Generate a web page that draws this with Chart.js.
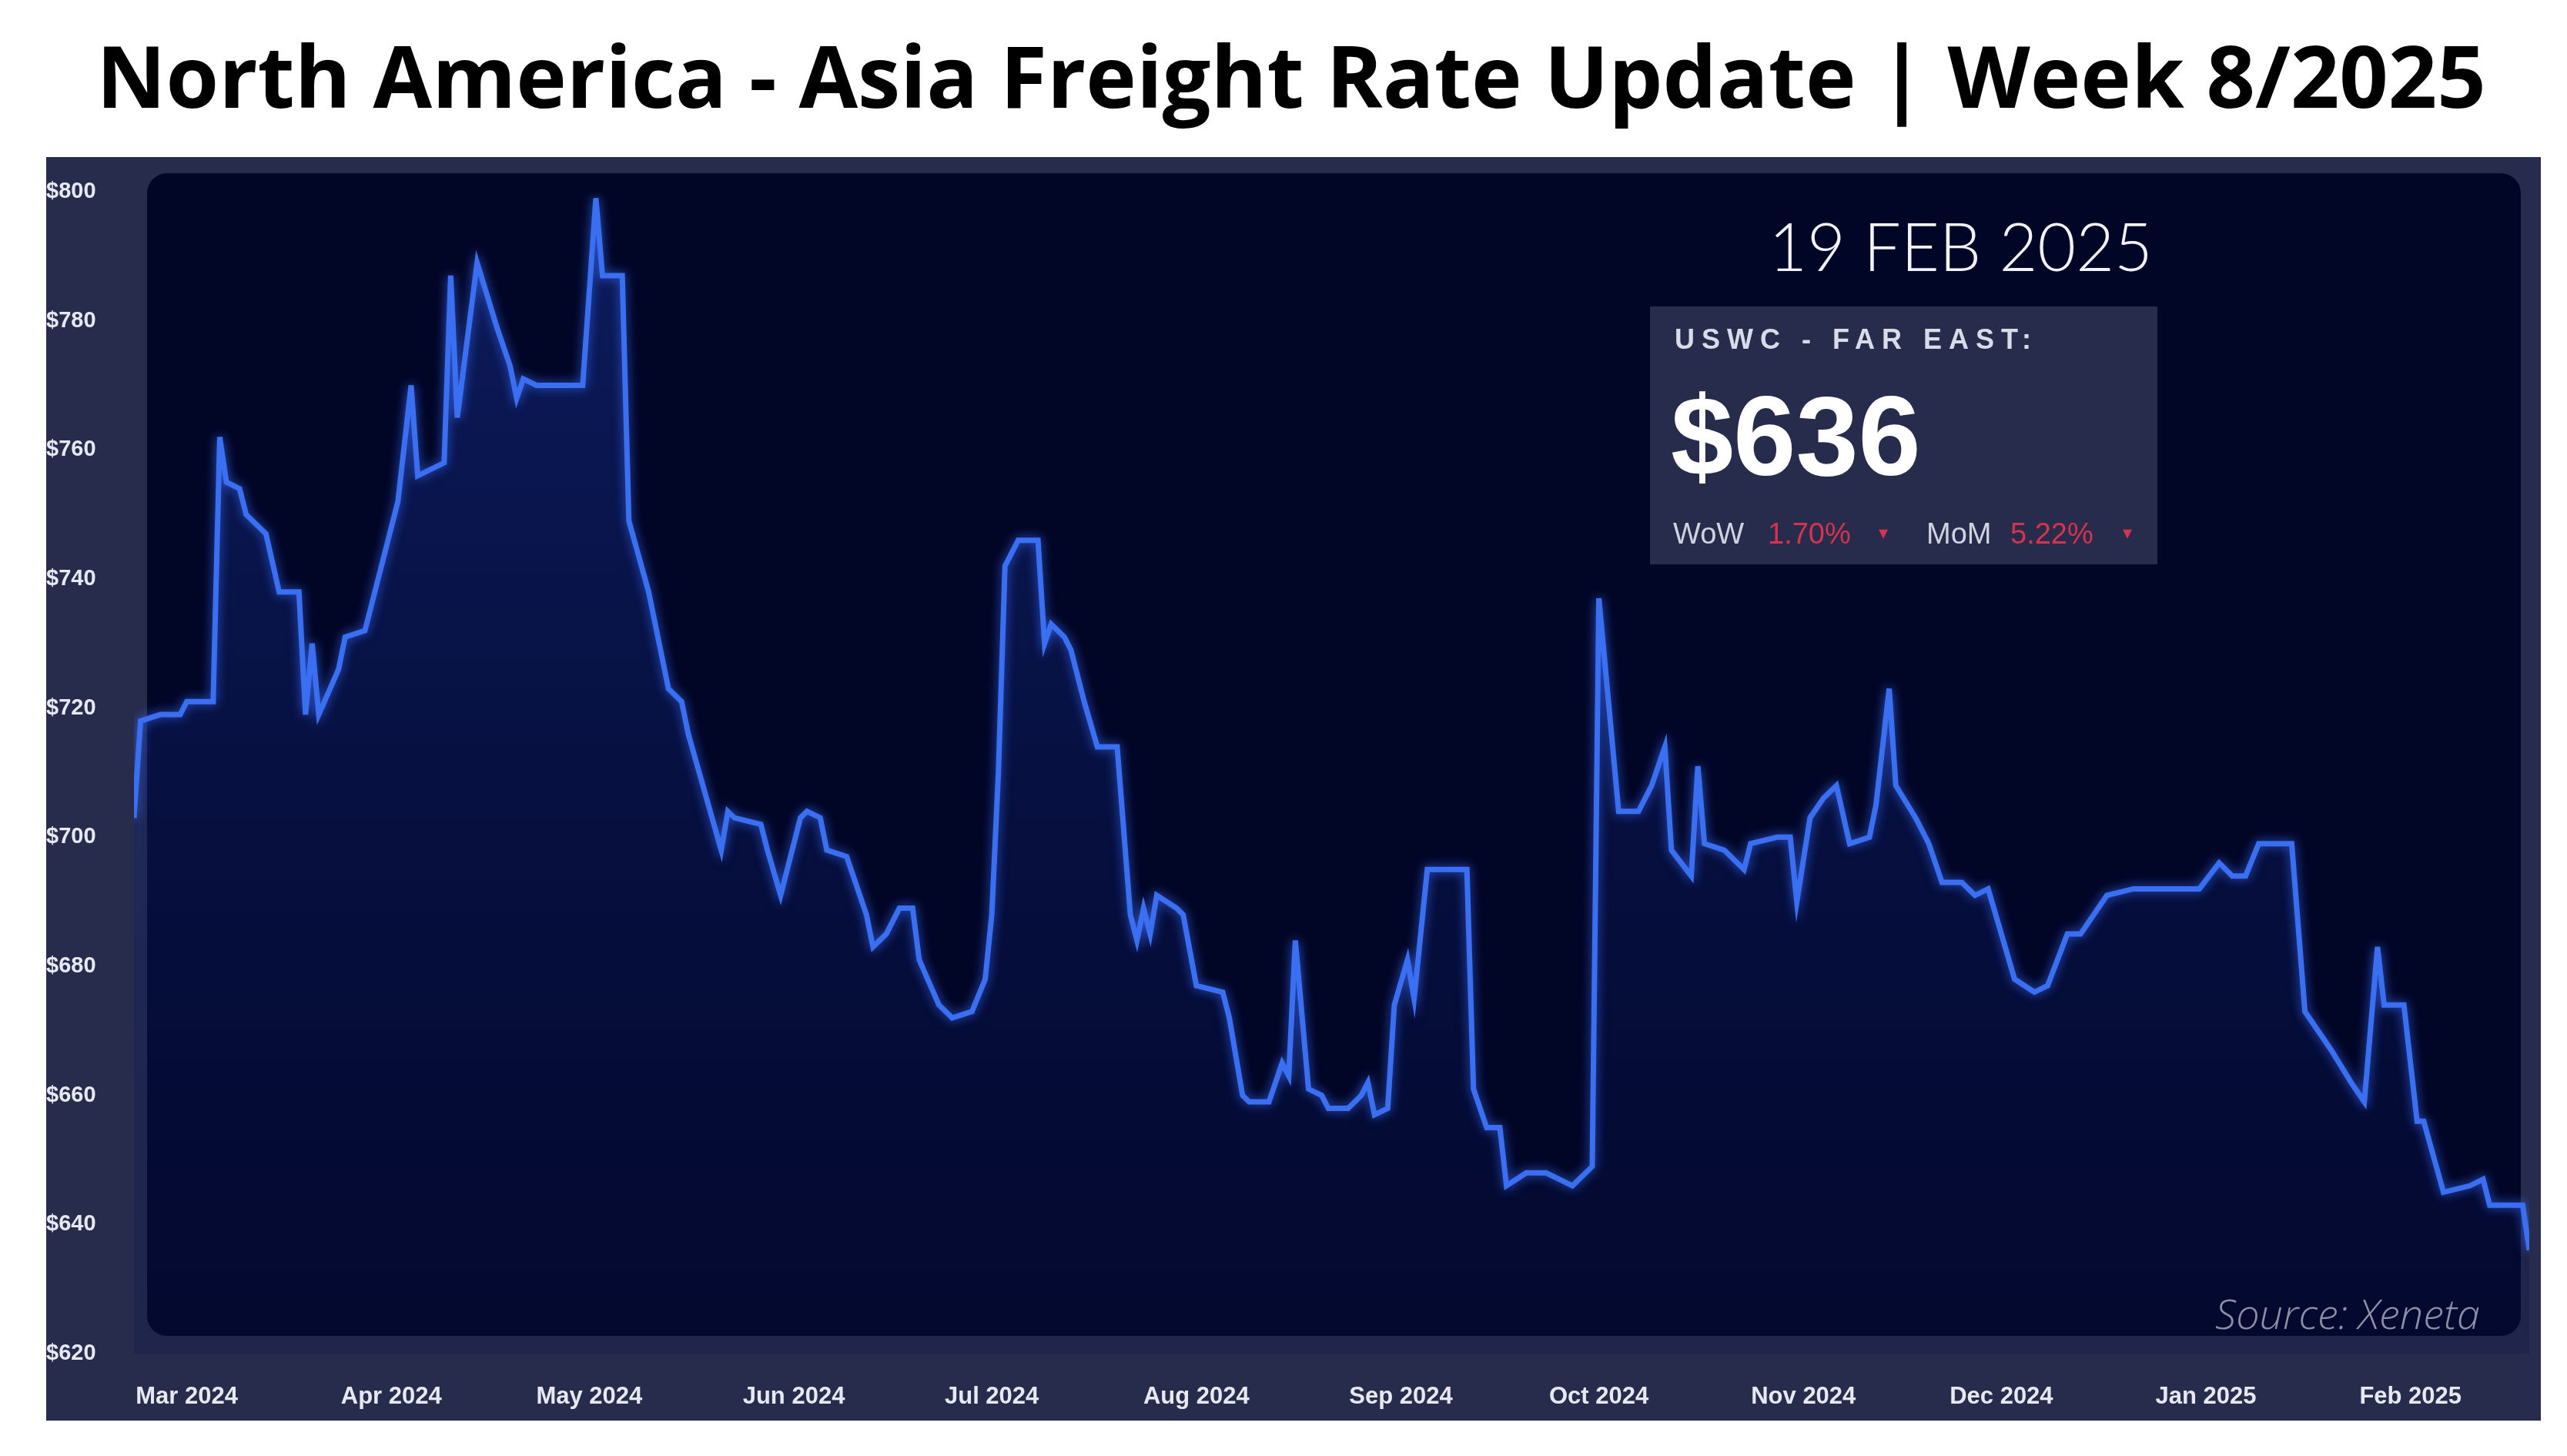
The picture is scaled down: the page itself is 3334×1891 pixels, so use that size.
<!DOCTYPE html>
<html>
<head>
<meta charset="utf-8">
<script src="https://cdn.jsdelivr.net/npm/chart.js@4/dist/chart.umd.min.js"></script>
<style>
html,body{margin:0;padding:0;background:#fff;}
#wrap{width:3334px;height:1891px;}
</style>
</head>
<body>
<div id="wrap"><canvas id="rateChart"></canvas></div>
<script>
// days counted from 1 Mar 2024
const days = [-8,-7,-4,-1,0,4,5,6,8,9,12,14,17,18,19,20,23,24,27,29,32,34,35,39,40,41,44,47,49,50,51,53,60,62,63,66,67,70,73,75,76,81,82,83,87,88,90,93,94,96,97,100,103,104,106,108,110,111,114,116,119,121,122,123,124,126,129,130,131,133,134,136,138,141,143,144,145,146,147,150,151,153,157,158,160,161,164,166,167,168,170,172,173,176,178,179,180,182,183,185,186,188,194,195,197,199,200,203,206,208,210,213,214,217,220,222,224,225,228,229,230,233,236,237,241,243,244,246,248,250,252,255,256,258,259,262,264,266,269,271,273,277,280,282,285,287,291,295,305,308,310,312,314,319,321,325,328,330,332,333,336,338,339,342,346,348,349,354,355];
const rates = [703,718,719,719,721,721,762,755,754,750,747,738,738,719,730,719,726,731,732,740,752,770,756,758,787,765,789,779,773,768,771,770,770,799,787,787,749,738,723,721,716,698,704,703,702,698,691,703,704,703,698,697,688,683,685,689,689,681,674,672,673,678,688,710,742,746,746,730,733,731,729,721,714,714,688,684,689,685,691,689,688,677,676,672,660,659,659,665,663,684,661,660,658,658,660,662,657,658,674,681,675,695,695,661,655,655,646,648,648,647,646,649,737,704,704,708,714,698,694,711,699,698,695,699,700,700,690,703,706,708,699,700,705,723,708,703,699,693,693,691,692,678,676,677,685,685,691,692,692,696,694,694,699,699,673,667,662,659,683,674,674,656,656,645,646,647,643,643,636];

const monthDays = [0,31,61,92,122,153,184,214,245,275,306,337];
const monthLabels = ['Mar 2024','Apr 2024','May 2024','Jun 2024','Jul 2024','Aug 2024','Sep 2024','Oct 2024','Nov 2024','Dec 2024','Jan 2025','Feb 2025'];
const yTicks = [620,640,660,680,700,720,740,760,780,800];

const points = days.map((d, i) => ({x: d, y: rates[i]}));

// backgrounds and texts around the chart
const decor = {
  id: 'decor',
  beforeDraw(chart){
    const c = chart.ctx;
    c.save();
    c.fillStyle = '#ffffff';
    c.fillRect(0, 0, chart.width, chart.height);
    c.fillStyle = '#000';
    c.font = 'bold 111px "Open Sans"';
    c.textAlign = 'center';
    c.textBaseline = 'alphabetic';
    c.fillText('North America - Asia Freight Rate Update | Week 8/2025', 1677, 140);
    c.fillStyle = '#272c4c';
    c.fillRect(60, 204, 3240, 1641);
    c.fillStyle = '#020626';
    c.beginPath();
    c.roundRect(191, 225, 3083, 1510, 26);
    c.fill();
    c.restore();
  },
  beforeDatasetDraw(chart){
    chart.ctx.save();
    chart.ctx.shadowColor = 'rgba(60,110,255,0.8)';
    chart.ctx.shadowBlur = 14;
  },
  afterDatasetDraw(chart){
    chart.ctx.restore();
  },
  afterDraw(chart){
    const c = chart.ctx;
    c.save();
    c.textBaseline = 'alphabetic';
    c.textAlign = 'right';
    c.fillStyle = '#f2f3fa';
    c.font = '300 86px Lato';
    c.fillText('19 FEB 2025', 2796, 352);
    c.fillStyle = '#272c4c';
    c.fillRect(2143, 398, 659, 335);
    c.textAlign = 'left';
    c.fillStyle = '#d8dbe8';
    c.font = 'bold 36px "Liberation Sans"';
    c.letterSpacing = '9px';
    c.fillText('USWC - FAR EAST:', 2175, 453);
    c.letterSpacing = '0px';
    c.fillStyle = '#ffffff';
    c.font = 'bold 146px "Liberation Sans"';
    c.fillText('$636', 2170, 617);
    c.font = '38px "Liberation Sans"';
    c.fillStyle = '#d0d3e0';
    c.fillText('WoW', 2173, 706);
    c.fillText('MoM', 2502, 706);
    c.fillStyle = '#d6334f';
    c.fillText('1.70%', 2296, 706);
    c.fillText('5.22%', 2611, 706);
    c.font = '24px "DejaVu Sans"';
    c.fillText('\u25BE', 2440, 700);
    c.fillText('\u25BE', 2757, 700);
    c.textAlign = 'right';
    c.fillStyle = '#8c91a8';
    c.font = 'italic 300 54px "Open Sans"';
    c.fillText('Source: Xeneta', 3221, 1726);
    c.restore();
  }
};

const ctx = document.getElementById('rateChart');

new Chart(ctx, {
  type: 'line',
  data: {
    datasets: [{
      data: points,
      borderColor: '#3b6ff2',
      borderWidth: 7,
      pointRadius: 0,
      tension: 0,
      fill: 'start',
      backgroundColor: (context) => {
        const area = context.chart.chartArea;
        if (!area) return 'rgba(10,30,100,0.4)';
        const g = context.chart.ctx.createLinearGradient(0, area.top, 0, area.bottom);
        g.addColorStop(0, 'rgba(25,55,160,0.45)');
        g.addColorStop(1, 'rgba(5,15,70,0.25)');
        return g;
      }
    }]
  },
  options: {
    responsive: true,
    maintainAspectRatio: false,
    animation: false,
    devicePixelRatio: 1,
    layout: {padding: {left: 60, right: 49, top: 249, bottom: 46}},
    plugins: {legend: {display: false}, tooltip: {enabled: false}},
    scales: {
      x: {
        type: 'linear',
        min: -8,
        max: 355,
        grid: {display: false},
        border: {display: false},
        afterFit: (s) => { s.height = 87; },
        afterBuildTicks: (s) => { s.ticks = monthDays.map(v => ({value: v})); },
        ticks: {
          color: '#e6e8f2',
          font: {family: '"Liberation Sans Narrow", "Liberation Sans"', size: 31, weight: 'bold'},
          padding: 30,
          maxRotation: 0,
          autoSkip: false,
          callback: (v) => monthLabels[monthDays.indexOf(v)]
        }
      },
      y: {
        min: 620,
        max: 800,
        grid: {display: false},
        border: {display: false},
        afterFit: (s) => { s.width = 114; },
        afterBuildTicks: (s) => { s.ticks = yTicks.map(v => ({value: v})); },
        ticks: {
          color: '#e6e8f2',
          font: {family: '"Liberation Sans Narrow", "Liberation Sans"', size: 29, weight: 'bold'},
          crossAlign: 'far',
          padding: 10,
          callback: (v) => '$' + v
        }
      }
    }
  },
  plugins: [decor]
});
</script>
</body>
</html>
